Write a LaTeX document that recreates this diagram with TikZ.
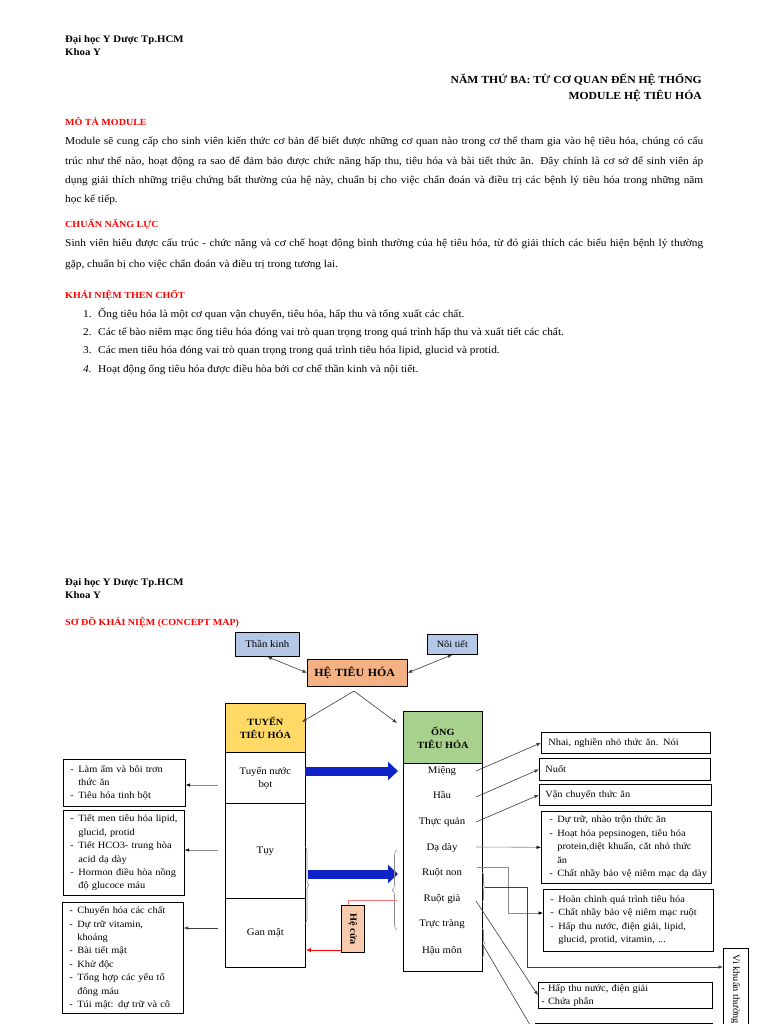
\documentclass[tikz,border=0pt]{standalone}
\usepackage{fontspec}
\setmainfont{Liberation Serif}[FakeStretch=1.08]
\usetikzlibrary{arrows.meta,decorations.pathreplacing}
\definecolor{lblue}{RGB}{180,199,231}
\definecolor{horange}{RGB}{244,177,131}
\definecolor{hyellow}{RGB}{255,217,102}
\definecolor{hgreen}{RGB}{169,209,142}
\definecolor{hpeach}{RGB}{248,203,173}
\definecolor{hblue}{RGB}{14,36,200}
\definecolor{hred}{RGB}{255,0,0}
\definecolor{lred}{RGB}{255,120,120}
\definecolor{cgray}{RGB}{140,140,140}
\definecolor{dgray}{RGB}{60,60,60}
\newcommand{\myb}[1]{\mbox{\makebox[8pt][l]{-}#1}}
\newcommand{\myc}[1]{\mbox{\hspace*{8pt}#1}}
\begin{document}
\begin{tikzpicture}[x=1pt,y=-1pt,
  txt/.style={anchor=base west, inner sep=0pt, font=\fontsize{10.5}{12}\selectfont},
  hdr/.style={anchor=base west, inner sep=0pt, font=\bfseries\fontsize{10}{12}\selectfont},
  ttl/.style={anchor=base east, inner sep=0pt, font=\bfseries\fontsize{10.8}{12}\selectfont},
  redh/.style={anchor=base west, inner sep=0pt, text=hred, font=\bfseries\fontsize{9.3}{12}\selectfont},
  box/.style={draw=black, line width=0.7pt, anchor=north west, inner ysep=1pt, align=left},
  boxtxt/.style={font=\fontsize{9.6}{13.4}\selectfont},
  cell/.style={draw=black, line width=0.8pt, anchor=north west, minimum width=80pt, inner sep=1pt, align=center, font=\fontsize{10}{13}\selectfont},
  itm/.style={anchor=base, inner sep=0pt, font=\fontsize{10}{12}\selectfont},
  con/.style={draw=dgray, line width=0.6pt, -{Latex[length=4.5pt,width=3.5pt]}},
  gcon/.style={draw=cgray, line width=0.6pt, -{Latex[length=4.5pt,width=3.5pt,color=black]}},
  bcon/.style={draw=dgray, line width=0.6pt, {Latex[length=4.5pt,width=3.5pt]}-{Latex[length=4.5pt,width=3.5pt]}},
  bigarrow/.style={draw=hblue, line width=9pt, -{Triangle[length=10pt,width=18pt]}},
  brc/.style={draw=cgray, line width=0.6pt, decorate, decoration={brace, amplitude=#1}},
]
\useasboundingbox (0,0) rectangle (768,1024);
\clip (0,0) rectangle (768,1024);
\fill[white] (0,0) rectangle (768,1024);

% ---------- page 1 text ----------
\node[hdr] (u1) at (65,43) {Đại học Y Dược Tp.HCM};
\node[hdr] (k1) at (65,56) {Khoa Y};
\node[ttl] (t1) at (702,84) {NĂM THỨ BA: TỪ CƠ QUAN ĐẾN HỆ THỐNG};
\node[ttl] (t2) at (702,100) {MODULE HỆ TIÊU HÓA};
\node[redh] (h1) at (65,126) {MÔ TẢ MODULE};
\node[txt] (p1) at (65,145) {\makebox[638pt][s]{Module sẽ cung cấp cho sinh viên kiến thức cơ bản để biết được những cơ quan nào trong cơ thể tham gia vào hệ tiêu hóa, chúng có cấu}};
\node[txt] (p2) at (65,165) {\makebox[638pt][s]{trúc như thế nào, hoạt động ra sao để đảm bảo được chức năng hấp thu, tiêu hóa và bài tiết thức ăn. Đây chính là cơ sở để sinh viên áp}};
\node[txt] (p3) at (65,184) {\makebox[638pt][s]{dụng giải thích những triệu chứng bất thường của hệ này, chuẩn bị cho việc chẩn đoán và điều trị các bệnh lý tiêu hóa trong những năm}};
\node[txt] (p4) at (65,203) {học kế tiếp.};
\node[redh] (h2) at (65,228) {CHUẨN NĂNG LỰC};
\node[txt] (q1) at (65,247) {\makebox[638pt][s]{Sinh viên hiểu được cấu trúc - chức năng và cơ chế hoạt động bình thường của hệ tiêu hóa, từ đó giải thích các biểu hiện bệnh lý thường}};
\node[txt] (q2) at (65,267) {gặp, chuẩn bị cho việc chẩn đoán và điều trị trong tương lai.};
\node[redh] (h3) at (65,298) {KHÁI NIỆM THEN CHỐT};
\node[txt] (n1) at (83,317) {1.};
\node[txt] (i1) at (98,317) {Ống tiêu hóa là một cơ quan vận chuyển, tiêu hóa, hấp thu và tống xuất các chất.};
\node[txt] (n2) at (83,335) {2.};
\node[txt] (i2) at (98,335) {Các tế bào niêm mạc ống tiêu hóa đóng vai trò quan trọng trong quá trình hấp thu và xuất tiết các chất.};
\node[txt] (n3) at (83,353) {3.};
\node[txt] (i3) at (98,353) {Các men tiêu hóa đóng vai trò quan trọng trong quá trình tiêu hóa lipid, glucid và protid.};
\node[txt] (n4) at (83,372) {\itshape 4.};
\node[txt] (i4) at (98,372) {Hoạt động ống tiêu hóa được điều hòa bởi cơ chế thần kinh và nội tiết.};

% ---------- page 2 header ----------
\node[hdr] (u2) at (65,585) {Đại học Y Dược Tp.HCM};
\node[hdr] (k2) at (65,598) {Khoa Y};
\node[redh] (h4) at (65,625) {SƠ ĐỒ KHÁI NIỆM (CONCEPT MAP)};

% ---------- concept map: top ----------
\node[box, fill=lblue, minimum width=64pt, minimum height=24pt, align=center, font=\fontsize{10}{12}\selectfont] (tk) at (235,632) {Thần kinh};
\node[box, fill=lblue, minimum width=50pt, minimum height=20pt, align=center, font=\fontsize{9.5}{12}\selectfont] (nt) at (427,634) {Nôi tiết};
\node[box, fill=horange, minimum width=100pt, minimum height=27pt, text width=86pt, inner xsep=7pt, font=\bfseries\fontsize{11}{13}\selectfont] (hth) at (307,659) {HỆ TIÊU HÓA};
\draw[bcon] (tk.south) -- (hth.west);
\draw[bcon] (nt.south) -- (hth.east);

% ---------- Tuyen tieu hoa column ----------
\node[cell, fill=hyellow, minimum height=49pt, font=\bfseries\fontsize{9.5}{13}\selectfont] (tth) at (225,703) {TUYẾN\\TIÊU HÓA};
\node[cell, minimum height=51pt] (tnb) at (225,752) {Tuyến nước\\bọt};
\node[cell, minimum height=95pt] (tuy) at (225,803) {Tụy};
\node[cell, minimum height=69pt] (gan) at (225,898) {Gan mật};

% ---------- Ong tieu hoa column ----------
\node[cell, fill=hgreen, minimum width=79pt, minimum height=52pt, font=\bfseries\fontsize{9.5}{13}\selectfont] (oth) at (403,711) {ỐNG\\TIÊU HÓA};
\node[cell, minimum width=79pt, minimum height=208pt] (obody) at (403,763) {};
\node[itm] (mieng) at (442,773.5) {Miệng};
\node[itm] (hau) at (442,798.5) {Hầu};
\node[itm] (tq) at (442,824.5) {Thực quản};
\node[itm] (dd) at (442,850.5) {Dạ dày};
\node[itm] (rn) at (442,875.5) {Ruột non};
\node[itm] (rg) at (442,901.5) {Ruột già};
\node[itm] (tt) at (442,926.5) {Trực tràng};
\node[itm] (hm) at (442,953.5) {Hậu môn};

% arrows from He tieu hoa
\coordinate (apex) at (354,691);
\coordinate (tipT) at (302,722);
\coordinate (tipO) at (397,723);
\draw[con] (apex) -- (tipT);
\draw[con] (apex) -- (tipO);

% ---------- left boxes ----------
\node[box, boxtxt, minimum width=122pt, minimum height=47pt, text width=108pt, inner xsep=7pt] (lb1) at (63,759)
  {\myb{Làm ấm và bôi trơn}\\\myc{thức ăn}\\\myb{Tiêu hóa tinh bột}};
\node[box, boxtxt, minimum width=121pt, minimum height=85pt, text width=107pt, inner xsep=7pt] (lb2) at (63,810)
  {\myb{Tiết men tiêu hóa lipid,}\\\myc{glucid, protid}\\\myb{Tiết HCO3- trung hòa}\\\myc{acid dạ dày}\\\myb{Hormon điều hòa nồng}\\\myc{độ glucoce máu}};
\node[box, boxtxt, minimum width=121pt, minimum height=111pt, text width=107pt, inner xsep=7pt] (lb3) at (62,902)
  {\myb{Chuyển hóa các chất}\\\myb{Dự trữ vitamin,}\\\myc{khoáng}\\\myb{Bài tiết mật}\\\myb{Khử độc}\\\myb{Tổng hợp các yếu tố}\\\myc{đông máu}\\\myb{Túi mật: dự trữ và cô}};
\coordinate (a1) at (218,785);
\coordinate (a2) at (218,850);
\coordinate (a3) at (218,928);
\draw[gcon] (a1) -- (lb1.east |- a1);
\draw[gcon] (a2) -- (lb2.east |- a2);
\draw[con] (a3) -- (lb3.east |- a3);

% ---------- blue arrows ----------
\coordinate (b1s) at (305,771);
\coordinate (b1e) at (398,771);
\coordinate (b2s) at (308,874);
\coordinate (b2e) at (398,874);
\draw[bigarrow] (b1s) -- (b1e);
\draw[bigarrow] (b2s) -- (b2e);

% ---------- braces ----------
\draw[brc=4pt] (305,847) -- (305,923);
\draw[brc=5pt] (397,930) -- (397,850);
\draw[brc=3pt] (482,872) -- (482,902);
\draw[brc=3pt] (482,928) -- (482,958);

% ---------- He cua ----------
\node[box, fill=hpeach, minimum width=23pt, minimum height=47pt] (hc) at (341,905) {};
\node[rotate=-90, inner sep=0pt, font=\bfseries\fontsize{9.5}{12}\selectfont] (hct) at (hc.center) {Hệ cửa};
\coordinate (r1) at (397,900);
\coordinate (hcn) at (348,905);
\draw[lred, line width=0.6pt] (hcn) |- (r1);
\coordinate (hcw) at (341,950);
\draw[hred, line width=0.8pt, -{Latex[length=5pt,width=4pt]}] (hcw) -- (gan.east |- hcw);

% ---------- right boxes ----------
\node[box, boxtxt, minimum width=169pt, minimum height=21pt, text width=155pt, inner xsep=7pt] (rb1) at (541,732) {Nhai, nghiền nhỏ thức ăn. Nói};
\node[box, boxtxt, minimum width=171pt, minimum height=22pt, text width=159pt, inner xsep=6pt] (rb2) at (539,758) {Nuốt};
\node[box, boxtxt, minimum width=172pt, minimum height=21pt, text width=160pt, inner xsep=6pt] (rb3) at (539,784) {Vận chuyển thức ăn};
\node[box, boxtxt, minimum width=170pt, minimum height=72pt, text width=154pt, inner xsep=8pt] (rb4) at (541,811)
  {\myb{Dự trữ, nhào trộn thức ăn}\\\myb{Hoạt hóa pepsinogen, tiêu hóa}\\\myc{protein,diệt khuẩn, cắt nhỏ thức}\\\myc{ăn}\\\myb{Chất nhầy bảo vệ niêm mạc dạ dày}};
\node[box, boxtxt, minimum width=170pt, minimum height=62pt, text width=156pt, inner xsep=7pt] (rb5) at (543,889)
  {\myb{Hoàn chỉnh quá trình tiêu hóa}\\\myb{Chất nhầy bảo vệ niêm mạc ruột}\\\myb{Hấp thu nước, điện giải, lipid,}\\\myc{glucid, protid, vitamin, ...}};
\node[box, boxtxt, minimum width=174pt, minimum height=26pt, text width=168pt, inner xsep=3pt, font=\fontsize{9.6}{13}\selectfont] (rb6) at (538,982)
  {- Hấp thu nước, điện giải\\- Chứa phân};
\node[box, minimum width=177pt, minimum height=20pt] (rb7) at (535,1023) {};
\node[box, minimum width=25pt, minimum height=95pt] (vk) at (723,948) {};
\node[rotate=-90, anchor=west, inner sep=0pt, font=\fontsize{9.6}{12}\selectfont] (vkt) at (735.5,954) {Vi khuẩn thường};

% ---------- right connectors ----------
\coordinate (sMi) at (476,771);
\coordinate (sHa) at (476,797);
\coordinate (sTq) at (476,822);
\coordinate (sDd) at (476,847);
\coordinate (sRn) at (477,867);
\coordinate (kRn) at (508,913);
\coordinate (sVk) at (485,887);
\coordinate (kVk) at (527,967);
\coordinate (sRg) at (476,901);
\coordinate (sHm) at (483,945);
\draw[con] (sMi) -- (rb1.west);
\draw[con] (sHa) -- (rb2.west);
\draw[con] (sTq) -- (rb3.west);
\draw[gcon] (sDd) -- (rb4.west);
\draw[gcon] (sRn) -| (kRn) -- (kRn -| rb5.west);
\draw[con] (sVk) -| (kVk) -- (kVk -| vk.west);
\draw[con] (sRg) -- (rb6.west);
\draw[con] (sHm) -- (rb7.west);
\end{tikzpicture}
\end{document}
